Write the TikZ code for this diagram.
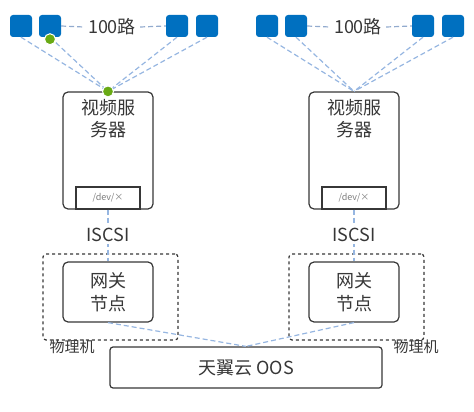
\documentclass[tikz,border=0pt]{standalone}
\usepackage{fontspec}
\setmainfont{Noto Sans CJK SC}
\usetikzlibrary{positioning}
\definecolor{camblue}{RGB}{0,112,192}
\definecolor{linkblue}{RGB}{150,182,225}
\definecolor{dotgreen}{RGB}{105,170,20}
\definecolor{boxgray}{RGB}{55,55,55}

\begin{document}
\begin{tikzpicture}[
    x=1pt, y=-1pt,
    every node/.style={font=\fontsize{18}{23}\selectfont, text=boxgray, inner sep=0pt},
    cam/.style={fill=camblue, rounded corners=3pt, minimum size=22pt},
    link/.style={linkblue, dash pattern=on 5pt off 3pt, line width=1.2pt},
    box/.style={draw=boxgray, line width=1.2pt, rounded corners=5pt, fill=white},
    hub/.style={circle, fill=dotgreen, draw=white, line width=1pt, minimum size=11pt}
]
\useasboundingbox (0,0) rectangle (474,412);

% --- Cloud storage ---
\node[box, rounded corners=3pt, minimum width=272pt, minimum height=41pt] (oos) at (246,367.5) {天翼云 OOS};

% --- Two identical branches ---
\foreach \s/\dx in {L/0, R/246} {
    % physical machine and gateway
    \node[draw=boxgray, dashed, line width=1.2pt, rounded corners=3pt,
          minimum width=135pt, minimum height=86pt] (pm\s) at (110.5+\dx,297) {};
    \node[box, align=center, minimum width=90pt, minimum height=60pt] (gw\s) at (108+\dx,292) {网关\\节点};
    % video server
    \node[box, minimum width=90pt, minimum height=117pt] (srv\s) at (108+\dx,150.5) {};
    \node (srvtop\s) at (108+\dx,108) {视频服};
    \node (srvbot\s) at (108+\dx,130) {务器};
    \node[draw=boxgray, line width=1.2pt, minimum width=64pt, minimum height=22pt,
          font=\fontsize{9}{10}\selectfont, text=gray] (dev\s) at (108+\dx,198) {/dev/×};
    % cameras
    \foreach \i/\cx in {1/21, 2/50, 3/177, 4/207} {
        \node[cam] (cam\s\i) at (\cx+\dx,26) {};
        \draw[link] (cam\s\i.south) -- (srv\s.north);
    }
    \node[inner sep=4pt] (num\s) at (112+\dx,27) {100路};
    \draw[link, linkblue!80!gray] (cam\s2.east) -- (num\s.west);
    \draw[link, linkblue!80!gray] (num\s.east) -- (cam\s3.west);
    % links down to storage
    \draw[link] (dev\s.south) -- (gw\s.north);
    \node[fill=white, inner sep=2pt] (iscsi\s) at (108+\dx,235) {ISCSI};
    \draw[link] (gw\s.south) -- (oos.north);
}

% --- Labels of the physical machines ---
\node[font=\fontsize{15}{16}\selectfont] (pmlabL) at (72,347) {物理机};
\node[font=\fontsize{15}{16}\selectfont] (pmlabR) at (416,347) {物理机};

% --- Green markers ---
\node[hub] (hubsrv) at (srvL.north) {};
\node[hub] (hubcam) at ([yshift=-2pt]camL2.south) {};

\end{tikzpicture}
\end{document}
